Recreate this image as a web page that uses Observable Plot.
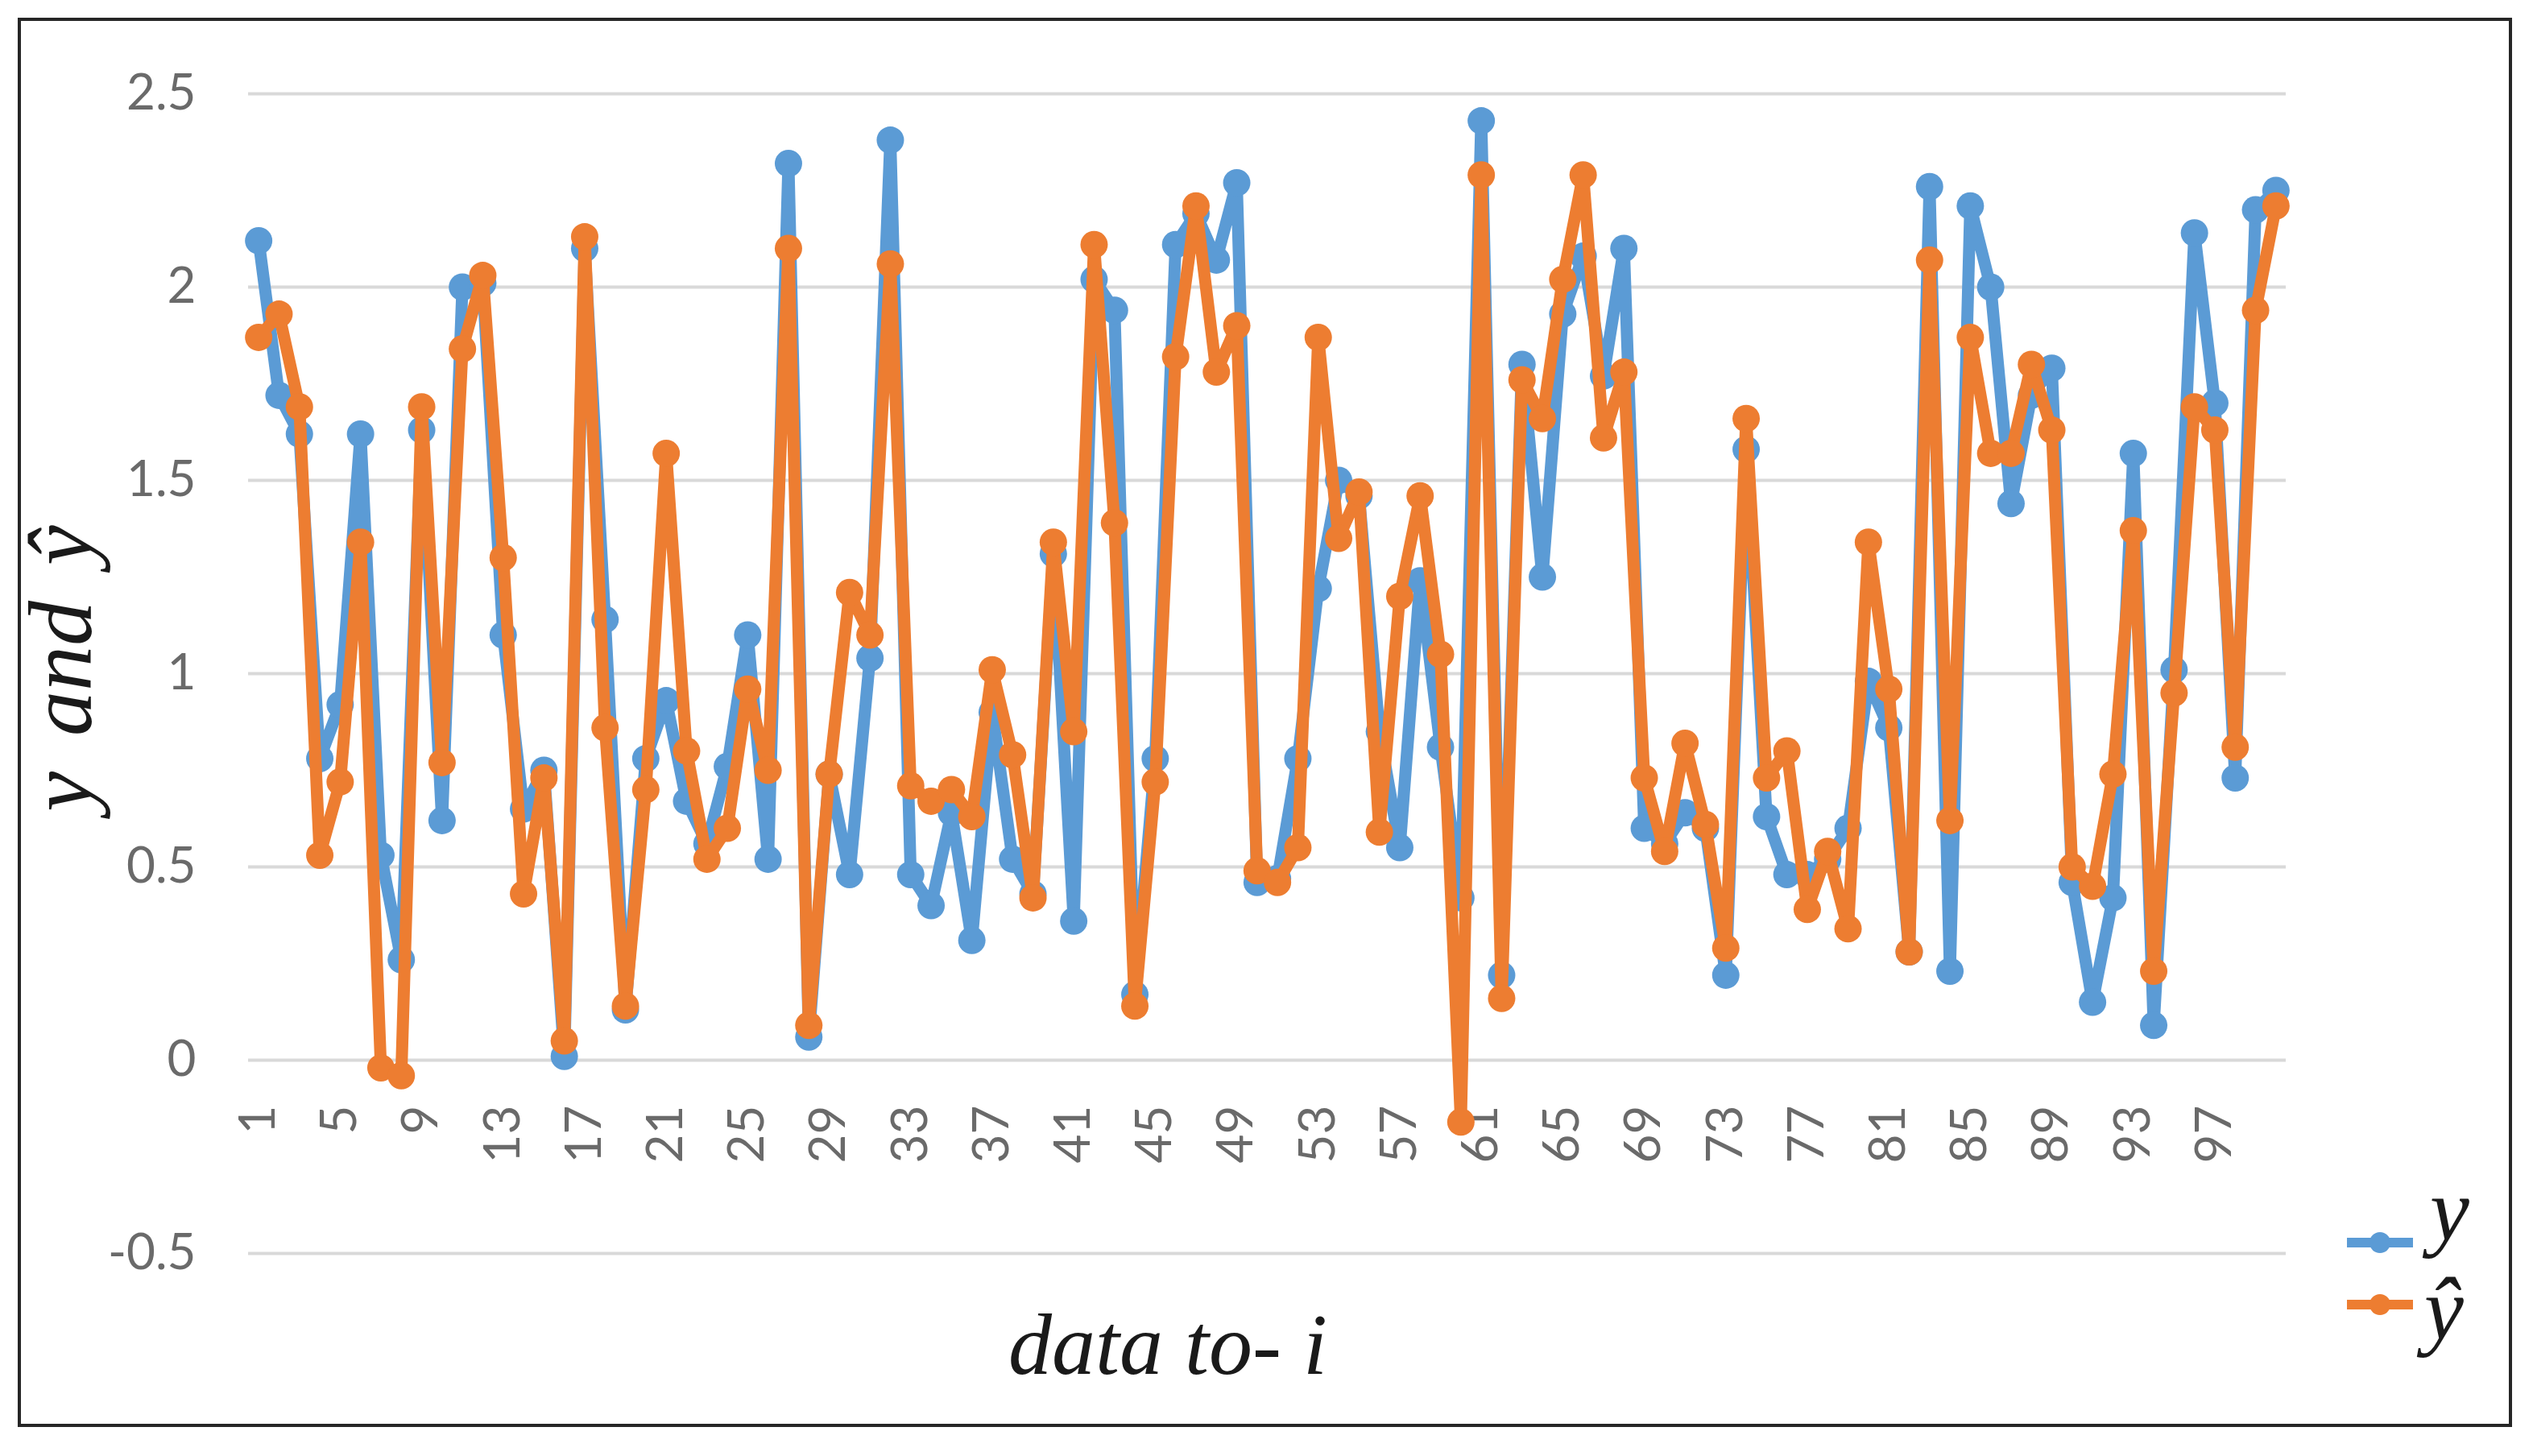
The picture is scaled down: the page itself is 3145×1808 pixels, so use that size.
<!DOCTYPE html>
<html>
<head>
<meta charset="utf-8">
<script src="https://cdn.jsdelivr.net/npm/d3@7"></script>
<script src="https://cdn.jsdelivr.net/npm/@observablehq/plot@0.6"></script>
<style>
  body { margin: 0; background: #fff; }
  #wrap { position: relative; width: 3145px; height: 1808px; overflow: hidden; background: #fff; }
  #wrap > svg { position: absolute; left: 0; top: 0; }
</style>
</head>
<body>
<div id="wrap"></div>
<script>
// ---- data ----
const dataIndex = d3.range(1, 101);
const yActual = [
  2.12, 1.72, 1.62, 0.78, 0.92, 1.62, 0.53, 0.26, 1.63, 0.62,
  2.00, 2.01, 1.10, 0.65, 0.75, 0.01, 2.10, 1.14, 0.13, 0.78,
  0.93, 0.67, 0.56, 0.76, 1.10, 0.52, 2.32, 0.06, 0.74, 0.48,
  1.04, 2.38, 0.48, 0.40, 0.64, 0.31, 0.90, 0.52, 0.43, 1.31,
  0.36, 2.02, 1.94, 0.17, 0.78, 2.11, 2.19, 2.07, 2.27, 0.46,
  0.47, 0.78, 1.22, 1.50, 1.46, 0.85, 0.55, 1.24, 0.81, 0.42,
  2.43, 0.22, 1.80, 1.25, 1.93, 2.08, 1.77, 2.10, 0.60, 0.56,
  0.64, 0.60, 0.22, 1.58, 0.63, 0.48, 0.48, 0.52, 0.60, 0.98,
  0.86, 0.28, 2.26, 0.23, 2.21, 2.00, 1.44, 1.72, 1.79, 0.46,
  0.15, 0.42, 1.57, 0.09, 1.01, 2.14, 1.70, 0.73, 2.20, 2.25
];
const yPredicted = [
  1.87, 1.93, 1.69, 0.53, 0.72, 1.34, -0.02, -0.04, 1.69, 0.77,
  1.84, 2.03, 1.30, 0.43, 0.73, 0.05, 2.13, 0.86, 0.14, 0.70,
  1.57, 0.80, 0.52, 0.60, 0.96, 0.75, 2.10, 0.09, 0.74, 1.21,
  1.10, 2.06, 0.71, 0.67, 0.70, 0.63, 1.01, 0.79, 0.42, 1.34,
  0.85, 2.11, 1.39, 0.14, 0.72, 1.82, 2.21, 1.78, 1.90, 0.49,
  0.46, 0.55, 1.87, 1.35, 1.47, 0.59, 1.20, 1.46, 1.05, -0.16,
  2.29, 0.16, 1.76, 1.66, 2.02, 2.29, 1.61, 1.78, 0.73, 0.54,
  0.82, 0.61, 0.29, 1.66, 0.73, 0.80, 0.39, 0.54, 0.34, 1.34,
  0.96, 0.28, 2.07, 0.62, 1.87, 1.57, 1.57, 1.80, 1.63, 0.50,
  0.45, 0.74, 1.37, 0.23, 0.95, 1.69, 1.63, 0.81, 1.94, 2.21
];
const xTickLabels = d3.range(1, 101, 4);           // 1, 5, 9, ... 97
const yTicks = [-0.5, 0, 0.5, 1, 1.5, 2, 2.5];
const seriesNames = ["y", "ŷ"];
const seriesColors = ["#5B9BD5", "#ED7D31"];
const xTitle = "data to- i";
const yTitle = "y and ŷ";
const xAxisCrossing = 0;

// ---- tables built from the arrays ----
const actualRows = dataIndex.map((i, k) => ({ i, v: yActual[k] }));
const predictedRows = dataIndex.map((i, k) => ({ i, v: yPredicted[k] }));

const tickFont = "Lato, 'Open Sans', sans-serif";
const serif = "'Liberation Serif', 'DejaVu Serif', serif";

const chart = Plot.plot({
  width: 3145,
  height: 1808,
  marginLeft: 308,
  marginRight: 307,
  marginTop: 116,
  marginBottom: 252,
  style: { background: "transparent", overflow: "visible" },
  x: { type: "linear", domain: [0.5, 100.5], axis: null },
  y: { domain: [-0.5, 2.5], axis: null },
  marks: [
    Plot.ruleY(yTicks, { stroke: "#d9d9d9", strokeWidth: 4 }),
    Plot.axisY(yTicks, {
      tickSize: 0, tickPadding: 65, fontSize: 62, fontFamily: tickFont,
      color: "#6a6a6a", tickFormat: d => String(d), label: null
    }),
    Plot.text(xTickLabels, {
      x: d => d, y: () => xAxisCrossing, text: d => String(d),
      rotate: -90, textAnchor: "end", lineAnchor: "middle", dy: 56,
      fontSize: 62, fontFamily: tickFont, fill: "#6a6a6a"
    }),
    Plot.line(actualRows, { x: "i", y: "v", stroke: seriesColors[0], strokeWidth: 15, strokeLinejoin: "round" }),
    Plot.dot(actualRows, { x: "i", y: "v", r: 17, fill: seriesColors[0] }),
    Plot.line(predictedRows, { x: "i", y: "v", stroke: seriesColors[1], strokeWidth: 15, strokeLinejoin: "round" }),
    Plot.dot(predictedRows, { x: "i", y: "v", r: 17, fill: seriesColors[1] })
  ]
});
document.getElementById("wrap").appendChild(chart);

// ---- overlay: frame, titles, legend ----
const ov = d3.select("#wrap").append("svg")
  .attr("width", 3145).attr("height", 1808)
  .style("pointer-events", "none");

ov.append("rect")
  .attr("x", 24).attr("y", 24).attr("width", 3093).attr("height", 1746)
  .attr("fill", "none").attr("stroke", "#262626").attr("stroke-width", 4);

ov.append("text")
  .attr("transform", "translate(113,830) rotate(-90)")
  .attr("text-anchor", "middle")
  .attr("font-family", serif).attr("font-style", "italic")
  .attr("font-size", 112).attr("word-spacing", 16).attr("fill", "#1a1a1a")
  .text(yTitle);

ov.append("text")
  .attr("x", 1450).attr("y", 1706)
  .attr("text-anchor", "middle")
  .attr("font-family", serif).attr("font-style", "italic")
  .attr("font-size", 108).attr("fill", "#1a1a1a")
  .text(xTitle);

const legendRows = [
  { name: seriesNames[0], color: seriesColors[0], ly: 1543, tx: 3017, ty: 1540 },
  { name: seriesNames[1], color: seriesColors[1], ly: 1620, tx: 3010, ty: 1663 }
];
legendRows.forEach(r => {
  ov.append("line").attr("x1", 2914).attr("x2", 2996).attr("y1", r.ly).attr("y2", r.ly)
    .attr("stroke", r.color).attr("stroke-width", 12);
  ov.append("circle").attr("cx", 2955).attr("cy", r.ly).attr("r", 13).attr("fill", r.color);
  ov.append("text").attr("x", r.tx).attr("y", r.ty)
    .attr("font-family", serif).attr("font-style", "italic")
    .attr("font-size", 110).attr("fill", "#1a1a1a")
    .text(r.name);
});
</script>
</body>
</html>
